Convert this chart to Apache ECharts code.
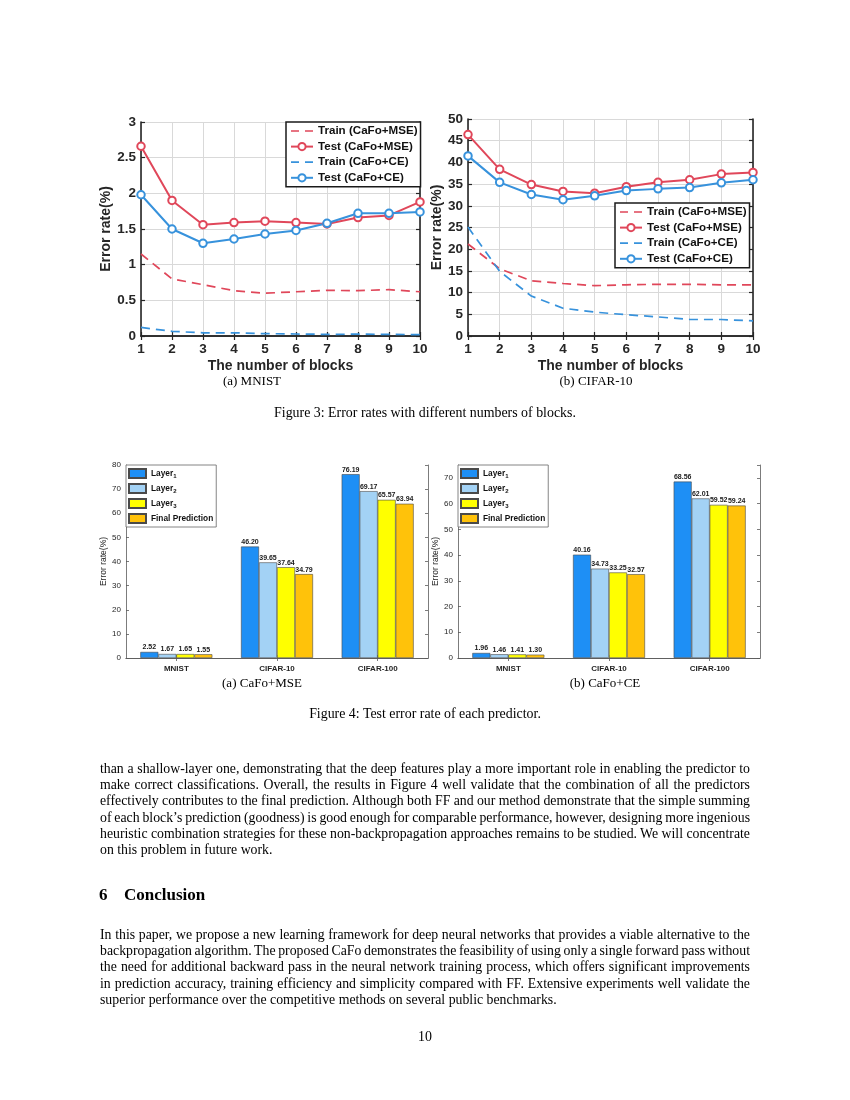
<!DOCTYPE html>
<html><head><meta charset="utf-8">
<script src="https://cdn.jsdelivr.net/npm/echarts@6/dist/echarts.min.js"></script>
<style>
html,body{margin:0;padding:0;background:#fff;}
#page{position:relative;width:850px;height:1100px;overflow:hidden;background:#fff;}
#chart{position:absolute;left:0;top:0;width:850px;height:1100px;}
.t{position:absolute;font-family:"Liberation Serif","Times New Roman",serif;color:#000;}
.cap{font-size:13px;line-height:16px;white-space:nowrap;transform:translateX(-50%);}
.fig{font-size:13.9px;line-height:16px;left:0;width:850px;text-align:center;}
.para{left:100px;width:650px;font-size:13.8px;line-height:16.2px;}
.para div{white-space:nowrap;}
.head{font-size:17px;font-weight:bold;line-height:20px;}
</style></head>
<body><div id="page">
<div id="chart"></div>
<div class="t cap" style="left:252px;top:373px">(a) MNIST</div>
<div class="t cap" style="left:596px;top:373px">(b) CIFAR-10</div>
<div class="t fig" style="top:405px">Figure 3: Error rates with different numbers of blocks.</div>
<div class="t cap" style="left:262px;top:675px">(a) CaFo+MSE</div>
<div class="t cap" style="left:605px;top:675px">(b) CaFo+CE</div>
<div class="t fig" style="top:706px">Figure 4: Test error rate of each predictor.</div>
<div class="t para" style="top:761px">
<div class="j"><span>than a shallow-layer one, demonstrating that the deep features play a more important role in enabling the predictor to</span></div>
<div class="j"><span>make correct classifications. Overall, the results in Figure 4 well validate that the combination of all the predictors</span></div>
<div class="j"><span>effectively contributes to the final prediction. Although both FF and our method demonstrate that the simple summing</span></div>
<div class="j"><span>of each block’s prediction (goodness) is good enough for comparable performance, however, designing more ingenious</span></div>
<div class="j"><span>heuristic combination strategies for these non-backpropagation approaches remains to be studied. We will concentrate</span></div>
<div><span>on this problem in future work.</span></div>
</div>
<div class="t head" style="left:99px;top:885px">6</div>
<div class="t head" style="left:124px;top:885px">Conclusion</div>
<div class="t para" style="top:927px">
<div class="j"><span>In this paper, we propose a new learning framework for deep neural networks that provides a viable alternative to the</span></div>
<div class="j"><span>backpropagation algorithm. The proposed CaFo demonstrates the feasibility of using only a single forward pass without</span></div>
<div class="j"><span>the need for additional backward pass in the neural network training process, which offers significant improvements</span></div>
<div class="j"><span>in prediction accuracy, training efficiency and simplicity compared with FF. Extensive experiments well validate the</span></div>
<div><span>superior performance over the competitive methods on several public benchmarks.</span></div>
</div>
<div class="t fig" style="top:1029px">10</div>
</div>
<script>
// justify each paragraph line to the 650px text width
document.querySelectorAll('.j').forEach(el => {
  const sp = el.firstChild;
  const w = sp.getBoundingClientRect().width;
  const n = (sp.textContent.match(/ /g) || []).length;
  if (n > 0) sp.style.wordSpacing = ((650 - w) / n) + 'px';
});

// ---------- data ----------
const blocks = [1,2,3,4,5,6,7,8,9,10];
const lineNames = ['Train (CaFo+MSE)','Test (CaFo+MSE)','Train (CaFo+CE)','Test (CaFo+CE)'];
const mnistTrainMSE = [1.15,0.80,0.72,0.635,0.60,0.62,0.64,0.635,0.65,0.62];
const mnistTestMSE  = [2.66,1.90,1.56,1.59,1.61,1.59,1.57,1.66,1.69,1.88];
const mnistTrainCE  = [0.12,0.065,0.045,0.045,0.033,0.028,0.023,0.026,0.023,0.019];
const mnistTestCE   = [1.98,1.50,1.30,1.36,1.43,1.48,1.58,1.72,1.72,1.74];
const cifarTrainMSE = [21.2,15.5,12.7,12.1,11.6,11.8,11.9,11.9,11.8,11.8];
const cifarTestMSE  = [46.4,38.4,34.9,33.3,32.9,34.4,35.4,36.0,37.3,37.7];
const cifarTrainCE  = [25.1,14.9,9.2,6.4,5.5,4.9,4.4,3.8,3.8,3.5];
const cifarTestCE   = [41.5,35.4,32.6,31.4,32.3,33.5,33.9,34.2,35.3,36.0];
const mnistTicks = [0,0.5,1,1.5,2,2.5,3];
const cifarTicks = [0,5,10,15,20,25,30,35,40,45,50];

const datasets = ['MNIST','CIFAR-10','CIFAR-100'];
const barNames = ['Layer1','Layer2','Layer3','Final Prediction'];
const mseLayer1 = [2.52,46.20,76.19];
const mseLayer2 = [1.67,39.65,69.17];
const mseLayer3 = [1.65,37.64,65.57];
const mseFinal  = [1.55,34.79,63.94];
const ceLayer1  = [1.96,40.16,68.56];
const ceLayer2  = [1.46,34.73,62.01];
const ceLayer3  = [1.41,33.25,59.52];
const ceFinal   = [1.30,32.57,59.24];
const barTicks1 = [0,10,20,30,40,50,60,70,80];
const barTicks2 = [0,10,20,30,40,50,60,70];

// ---------- styles ----------
const RED = '#e0475a', BLUE = '#3792dc';
const BARCOLORS = ['#1e8ff5','#a3d2f5','#ffff00','#ffc20a'];
const FONT = 'Liberation Sans';
const DARK = '#262626';

const grids = [
  {left:141, top:122, width:279, height:214},
  {left:468, top:119, width:285, height:217},
  {left:126, top:465, width:302, height:193},
  {left:458, top:465, width:302, height:193}
];

const xAxes = [], yAxes = [], series = [], legends = [];

function lineChart(gi, ymax, yint, ticks, nameGapY, vals, legendPos) {
  const axLine = {show:true, lineStyle:{color:DARK, width:1.6}};
  const tick = {show:true, inside:true, length:4, lineStyle:{color:DARK, width:1.2}};
  const split = {show:true, lineStyle:{color:'#d9d9d9', width:1}};
  const lbl = {color:DARK, fontFamily:FONT, fontWeight:'bold', fontSize:13.5};
  const xi = xAxes.length, yi = yAxes.length;
  xAxes.push({gridIndex:gi, type:'value', position:'bottom', min:1, max:10, interval:1,
    axisLine:axLine, axisTick:tick, splitLine:split,
    axisLabel:Object.assign({margin:6}, lbl),
    name:'The number of blocks', nameLocation:'middle', nameGap:23.5,
    nameTextStyle:{color:DARK, fontFamily:FONT, fontWeight:'bold', fontSize:14}});
  xAxes.push({gridIndex:gi, type:'value', position:'top', min:1, max:10, interval:1,
    axisLine:axLine, axisTick:tick, splitLine:{show:false}, axisLabel:{show:false}});
  yAxes.push({gridIndex:gi, type:'value', position:'left', min:0, max:ymax, interval:yint,
    axisLine:axLine, axisTick:tick, splitLine:split,
    axisLabel:Object.assign({margin:5, formatter:v=>ticks.indexOf(v)>=0?String(v):''}, lbl),
    name:'Error rate(%)', nameLocation:'middle', nameGap:nameGapY,
    nameTextStyle:{color:DARK, fontFamily:FONT, fontWeight:'bold', fontSize:14}});
  yAxes.push({gridIndex:gi, type:'value', position:'right', min:0, max:ymax, interval:yint,
    axisLine:axLine, axisTick:tick, splitLine:{show:false}, axisLabel:{show:false}});
  const colors = [RED, RED, BLUE, BLUE];
  vals.forEach((v, k) => {
    const dashed = (k % 2 === 0);
    series.push({type:'line', name:lineNames[k], xAxisIndex:xi, yAxisIndex:yi,
      data: blocks.map((b, i) => [b, v[i]]),
      symbol: dashed ? 'none' : 'emptyCircle', symbolSize:7.5, showSymbol:!dashed,
      lineStyle:{color:colors[k], width: dashed ? 1.7 : 2, type: dashed ? [9,6] : 'solid'},
      itemStyle:{color:colors[k], borderColor:colors[k], borderWidth:1.6},
      emphasis:{disabled:true}, silent:true, z: dashed ? 2 : 3});
  });
  const legendData = lineNames.map((n, k) => (k % 2 === 0)
    ? {name:n, itemStyle:{opacity:0}, lineStyle:{type:[8,6], width:1.7}}
    : {name:n});
  legends.push(Object.assign({orient:'vertical', data:legendData, selectedMode:false,
    itemWidth:22, itemHeight:9, itemGap:3.6, padding:[3,3,3,4],
    backgroundColor:'#fff', borderColor:'#1a1a1a', borderWidth:1.5, borderRadius:0,
    textStyle:{color:'#111', fontFamily:FONT, fontWeight:'bold', fontSize:11.6, lineHeight:12}}, legendPos));
}

function barChart(gi, ymax, ticks, nameGapY, vals, legendPos) {
  const axLine = {show:true, lineStyle:{color:'#5a5a5a', width:0.8}};
  const tick = {show:true, inside:true, length:3, lineStyle:{color:'#5a5a5a', width:0.8}};
  const xi = xAxes.length, yi = yAxes.length;
  xAxes.push({gridIndex:gi, type:'category', position:'bottom', data:datasets,
    axisLine:axLine, axisTick:Object.assign({alignWithLabel:true}, tick),
    axisLabel:{color:DARK, fontFamily:FONT, fontWeight:'bold', fontSize:8, margin:7}});
  xAxes.push({gridIndex:gi, type:'category', position:'top', data:datasets,
    axisLine:axLine, axisTick:Object.assign({alignWithLabel:true}, tick), axisLabel:{show:false}});
  yAxes.push({gridIndex:gi, type:'value', position:'left', min:0, max:ymax, interval:10,
    axisLine:axLine, axisTick:tick, splitLine:{show:false},
    axisLabel:{color:DARK, fontFamily:FONT, fontSize:8, margin:5,
      formatter:v=>ticks.indexOf(v)>=0?String(v):''},
    name:'Error rate(%)', nameLocation:'middle', nameGap:nameGapY,
    nameTextStyle:{color:DARK, fontFamily:FONT, fontSize:8.5}});
  yAxes.push({gridIndex:gi, type:'value', position:'right', min:0, max:ymax, interval:10,
    axisLine:axLine, axisTick:tick, splitLine:{show:false}, axisLabel:{show:false}});
  vals.forEach((v, k) => {
    series.push({type:'bar', name:barNames[k], xAxisIndex:xi, yAxisIndex:yi, data:v,
      barWidth:18, barGap:'0%',
      itemStyle:{color:BARCOLORS[k], borderColor:'#4a4a4a', borderWidth:0.6},
      label:{show:true, position:'top', distance:1, fontFamily:FONT, fontWeight:'bold',
        fontSize:7, color:'#1a1a1a', formatter:p=>p.value.toFixed(2)},
      emphasis:{disabled:true}, silent:true});
  });
  legends.push(Object.assign({orient:'vertical', data:barNames, selectedMode:false,
    itemWidth:17, itemHeight:9, itemGap:4, padding:[3,3,3,2], icon:'rect',
    backgroundColor:'#fff', borderColor:'#666', borderWidth:0.8,
    formatter: n => /^Layer\d$/.test(n) ? '{a|Layer}{s|' + n.slice(5) + '}' : n,
    textStyle:{color:'#111', fontFamily:FONT, fontWeight:'bold', fontSize:8.3, lineHeight:11,
      rich:{a:{fontFamily:FONT, fontWeight:'bold', fontSize:8.3, lineHeight:11, color:'#111'},
            s:{fontFamily:FONT, fontWeight:'bold', fontSize:6, lineHeight:6, verticalAlign:'bottom', color:'#111'}}}},
    legendPos));
}

lineChart(0, 3, 0.5, mnistTicks, 25, [mnistTrainMSE, mnistTestMSE, mnistTrainCE, mnistTestCE], {left:286, top:122});
lineChart(1, 50, 5, cifarTicks, 18, [cifarTrainMSE, cifarTestMSE, cifarTrainCE, cifarTestCE], {left:615, top:203});
barChart(2, 80, barTicks1, 11, [mseLayer1, mseLayer2, mseLayer3, mseFinal], {left:126, top:465});
barChart(3, 75, barTicks2, 11, [ceLayer1, ceLayer2, ceLayer3, ceFinal], {left:458, top:465});

const chart = echarts.init(document.getElementById('chart'), null, {renderer:'canvas'});
chart.setOption({animation:false, backgroundColor:'transparent',
  grid:grids, xAxis:xAxes, yAxis:yAxes, series:series, legend:legends});
</script>
</body></html>
